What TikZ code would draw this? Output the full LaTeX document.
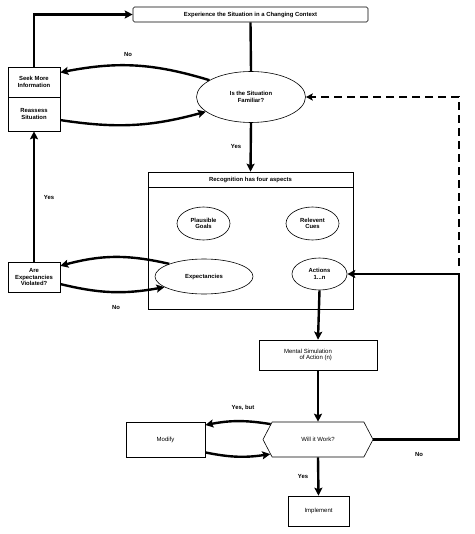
\documentclass[tikz,border=0pt]{standalone}
\usepackage{fontspec}
\setmainfont{Liberation Sans}
\usetikzlibrary{arrows, arrows.meta, shapes.geometric, shapes.symbols}

\begin{document}
\begin{tikzpicture}[x = 1pt, y = -1pt]
\tikzstyle{BoxStyle}=[shape = rectangle,
                      draw, line width = 0.6pt,
                      inner sep = 1pt, align = center,
                      font = \fontsize{5.9}{6.6}\selectfont\bfseries]
\tikzstyle{OvalStyle}=[shape = ellipse,
                       draw, line width = 0.6pt,
                       inner sep = 0pt, align = center,
                       font = \fontsize{5.9}{6.6}\selectfont\bfseries]
\tikzstyle{plain}=[font = \fontsize{6}{6.8}\selectfont]
\tikzstyle{post}=[line width = 2.4pt, -{Stealth[length = 8pt, width = 8pt, inset = 1.5pt]}]
\tikzstyle{lbl}=[font = \fontsize{5.9}{6.6}\selectfont\bfseries]
\useasboundingbox (0,0) rectangle (474,534);
% top part
\node[BoxStyle, rounded corners = 1.5pt, minimum width = 235pt, minimum height = 15pt] (exp) at (250.5,14.5) {Experience the Situation in a Changing Context};
\node[OvalStyle, minimum width = 109pt, minimum height = 51pt] (fam) at (251,97) {Is the Situation\\Familiar?};
\node[BoxStyle, minimum width = 52pt, minimum height = 30pt] (seek) at (34,82) {Seek More\\Information};
\node[BoxStyle, minimum width = 52pt, minimum height = 34pt] (reass) at (34,114) {Reassess\\Situation};
% recognition
\node[BoxStyle, minimum width = 205pt, minimum height = 15pt] (recog) at (250.5,179.5) {Recognition has four aspects};
\node[BoxStyle, minimum width = 205pt, minimum height = 122pt] (recbody) at (250.5,248) {};
\node[OvalStyle, minimum width = 53pt, minimum height = 33pt] (goals) at (203.5,223.5) {Plausible\\Goals};
\node[OvalStyle, minimum width = 53pt, minimum height = 33pt] (cues) at (312.5,223.5) {Relevent\\Cues};
\node[OvalStyle, minimum width = 98pt, minimum height = 35pt] (expect) at (204,276.5) {Expectancies};
\node[OvalStyle, minimum width = 55pt, minimum height = 32pt] (actions) at (319.5,274) {Actions\\1...n};
\node[BoxStyle, minimum width = 52pt, minimum height = 30pt] (viol) at (34,277) {Are\\Expectancies\\Violated?};
% lower part
\node[BoxStyle, plain, align = right, minimum width = 118pt, minimum height = 30pt] (mental) at (318,355) {Mental Simulation\hspace*{20pt}\\of Action (n)\hspace*{20pt}};
\node[BoxStyle, plain, shape = signal, signal to = west and east, signal pointer angle = 125,
      minimum width = 110pt, minimum height = 35pt] (work) at (318,439.5) {Will it Work?};
\node[BoxStyle, plain, minimum width = 79pt, minimum height = 35pt] (modify) at (165.5,439.5) {Modify};
\node[BoxStyle, plain, minimum width = 61pt, minimum height = 30pt] (impl) at (318.5,511) {Implement};
\coordinate (dstart) at (459,266);
\coordinate (nturn) at (459,439.5);
% connectors
\draw[post] (seek.north) |- (exp.west);
\draw[line width = 2.4pt] (exp.south) -- (fam.north);
\draw[post] (fam.158) to[bend right = 14] (seek.20);
\draw[post] (reass.-13) to[bend right = 12] (fam.198);
\draw[post] (fam.south) -- (recog.north);
\draw[line width = 1.6pt, dashed, dash pattern = on 8pt off 5pt, -{Stealth[length = 7pt, width = 7pt, inset = 1.5pt]}] (dstart) |- (fam.east);
\draw[post] (expect.160) to[bend right = 14] (viol.23);
\draw[post] (viol.-15) to[bend right = 12] (expect.195);
\draw[post] (viol.north) -- (reass.south);
\draw[post] (actions.south) -- (mental.north);
\draw[post] (mental.south) -- (work.north);
\draw[post] (work.south) -- (impl.north);
\draw[post] (work.east) -- (nturn) |- (actions.east);
\draw[post] (work.162) to[bend right = 10] (modify.20);
\draw[post] (modify.-18) to[bend right = 10] (work.197);
% labels
\node[lbl] (lno1) at (128,55) {No};
\node[lbl] (lyes1) at (236,147) {Yes};
\node[lbl] (lyes2) at (49,197) {Yes};
\node[lbl] (lno2) at (116,307) {No};
\node[lbl] (lbut) at (243,408) {Yes, but};
\node[lbl] (lno3) at (419,454) {No};
\node[lbl] (lyes3) at (303,476) {Yes};
\end{tikzpicture}
\end{document}
